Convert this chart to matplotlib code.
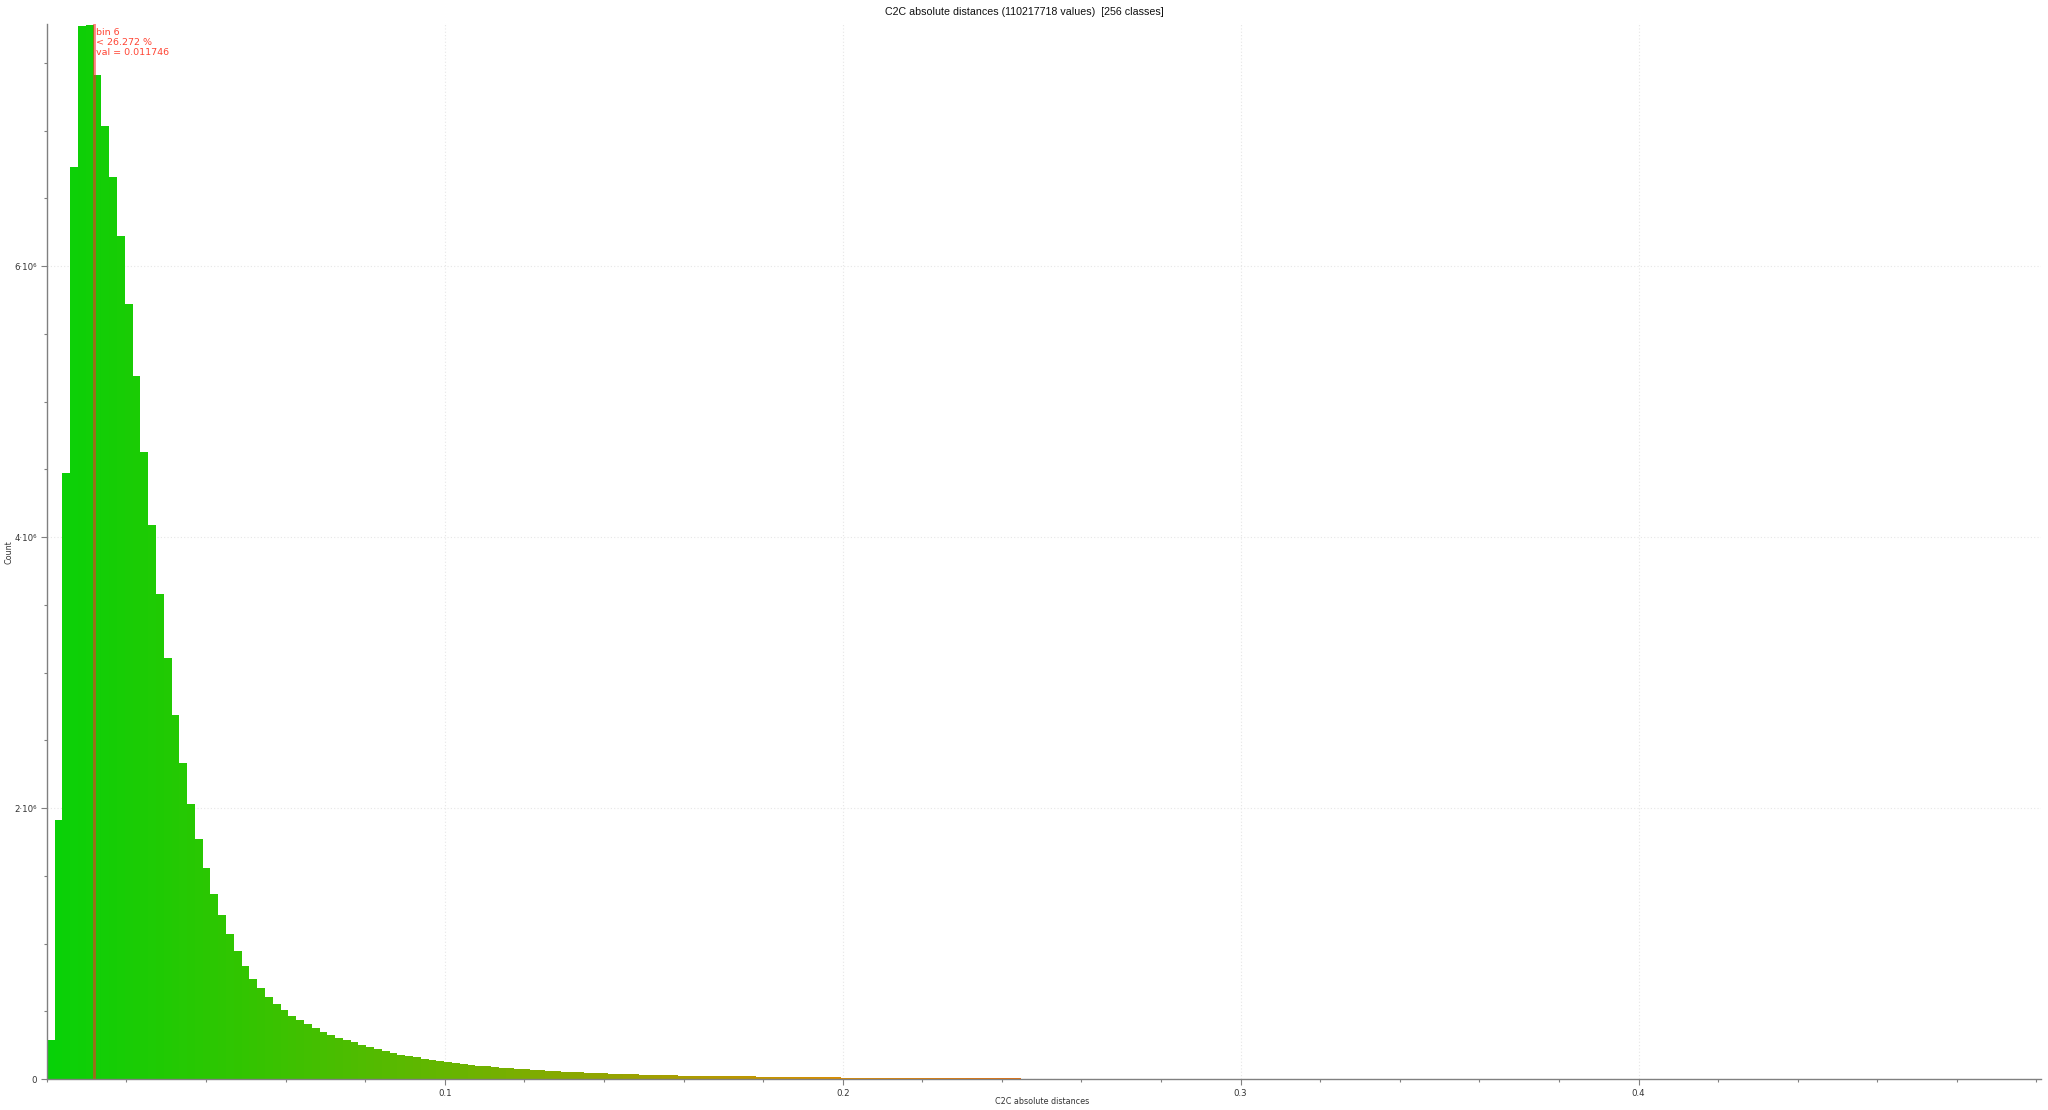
import numpy as np
import matplotlib
matplotlib.use("Agg")
import matplotlib.pyplot as plt
from matplotlib.colors import LinearSegmentedColormap
from matplotlib.ticker import MultipleLocator, FixedLocator

# histogram of C2C absolute distances, 256 classes (counts in millions)
n_classes = 256
total_values = 110217718
marker_bin = 6
marker_val = 0.011746
marker_pct = 26.272
bin_width = marker_val / marker_bin

counts_m = [
    0.29, 1.91, 4.47, 6.73, 7.77, 7.78, 7.41, 7.03, 6.66, 6.22, 5.72, 5.19, 4.63, 4.09, 3.58, 3.11,
    2.69, 2.33, 2.03, 1.77, 1.56, 1.37, 1.215, 1.07, 0.943, 0.837, 0.743, 0.671, 0.604, 0.555, 0.510, 0.468,
    0.435, 0.404, 0.377, 0.352, 0.330, 0.308, 0.291, 0.274, 0.256, 0.238, 0.221, 0.207, 0.196, 0.181, 0.172, 0.162,
    0.152, 0.142, 0.135, 0.128, 0.120, 0.113, 0.108, 0.100, 0.096, 0.091, 0.086, 0.081, 0.076, 0.074, 0.069, 0.066,
    0.061, 0.059, 0.056, 0.054, 0.051, 0.049, 0.046, 0.044, 0.041, 0.039, 0.038, 0.036, 0.034, 0.033, 0.031, 0.030,
    0.029, 0.027, 0.026, 0.0255, 0.025, 0.0245, 0.024, 0.023, 0.022, 0.021, 0.0205, 0.020, 0.019, 0.0185, 0.018, 0.017,
    0.0165, 0.016, 0.015, 0.0145, 0.014, 0.013, 0.0125, 0.012, 0.0115, 0.011, 0.0105, 0.010, 0.0097, 0.0093, 0.009, 0.0086,
    0.0082, 0.008, 0.0077, 0.0074, 0.0072, 0.007, 0.0068, 0.0066, 0.0064, 0.0062, 0.006, 0.0058, 0.0057, 0.0055, 0.0054, 0.0052,
    0.0051, 0.005, 0.0049, 0.0048, 0.0047, 0.0046, 0.0045, 0.0044, 0.0043, 0.0042, 0.0041, 0.0040, 0.0039, 0.0038, 0.0038, 0.0037,
    0.0036, 0.0036, 0.0035, 0.0034, 0.0034, 0.0033, 0.0033, 0.0032, 0.0031, 0.0031, 0.0030, 0.0030, 0.0029, 0.0029, 0.0028, 0.0028,
    0.0027, 0.0027, 0.0026, 0.0026, 0.0025, 0.0025, 0.0025, 0.0024, 0.0024, 0.0023, 0.0023, 0.0023, 0.0022, 0.0022, 0.0021, 0.0021,
    0.0021, 0.0020, 0.0020, 0.0020, 0.0019, 0.0019, 0.0019, 0.0018, 0.0018, 0.0018, 0.0017, 0.0017, 0.0017, 0.0016, 0.0016, 0.0016,
    0.0015, 0.0015, 0.0015, 0.0015, 0.0014, 0.0014, 0.0014, 0.0013, 0.0013, 0.0013, 0.0013, 0.0012, 0.0012, 0.0012, 0.0012, 0.0011,
    0.0011, 0.0011, 0.0011, 0.0010, 0.0010, 0.0010, 0.0010, 0.0010, 0.0009, 0.0009, 0.0009, 0.0009, 0.0009, 0.0008, 0.0008, 0.0008,
    0.0008, 0.0008, 0.0007, 0.0007, 0.0007, 0.0007, 0.0007, 0.0007, 0.0006, 0.0006, 0.0006, 0.0006, 0.0006, 0.0006, 0.0005, 0.0005,
    0.0005, 0.0005, 0.0005, 0.0005, 0.0005, 0.0004, 0.0004, 0.0004, 0.0004, 0.0004, 0.0004, 0.0004, 0.0003, 0.0003, 0.0003, 0.0003,
]

x_ticks = [0.1, 0.2, 0.3, 0.4]
y_ticks = [0, 2e6, 4e6, 6e6]
y_tick_labels = ["0", "2·10⁶", "4·10⁶", "6·10⁶"]

counts = np.array(counts_m) * 1e6
edges = np.arange(n_classes) * bin_width
centers = edges + bin_width / 2
x_max = n_classes * bin_width

# green -> yellow -> orange -> red scale along the distance axis
cmap = LinearSegmentedColormap.from_list("c2c", [
    (0.0, (0.03, 0.82, 0.03)),
    (0.10, (0.20, 0.77, 0.0)),
    (0.20, (0.40, 0.71, 0.0)),
    (0.30, (0.62, 0.63, 0.0)),
    (0.40, (0.86, 0.55, 0.0)),
    (0.50, (0.91, 0.42, 0.05)),
    (0.60, (0.93, 0.32, 0.15)),
    (1.0, (0.93, 0.28, 0.20)),
])
colors = cmap(centers / x_max)

fig = plt.figure(figsize=(20.48, 11.10), dpi=100)
ax = fig.add_axes([0.0229, 0.0277, 0.9737, 0.9504])

ax.bar(edges, counts, width=bin_width, align="edge", color=colors, linewidth=0)

ax.axvline(marker_val, color="#ff2a2a", alpha=0.6, linewidth=2)
ax.text(marker_val + bin_width * 0.25, counts.max() * 0.997,
        "bin %d\n< %.3f %%\nval = %.6f" % (marker_bin, marker_pct, marker_val),
        color="#ff4433", fontsize=6.8, va="top", ha="left", linespacing=1.15)

ax.set_xlim(0, x_max)
ax.set_ylim(0, counts.max() * 1.0005)

ax.xaxis.set_major_locator(FixedLocator(x_ticks))
ax.xaxis.set_minor_locator(MultipleLocator(0.02))
ax.set_yticks(y_ticks)
ax.set_yticklabels(y_tick_labels)
ax.yaxis.set_minor_locator(MultipleLocator(0.5e6))

ax.tick_params(which="both", direction="out", colors="#808080", labelcolor="#333333", labelsize=6.2, pad=3)
ax.tick_params(which="major", length=4, width=0.8)
ax.tick_params(which="minor", length=2.5, width=0.8)

ax.grid(True, which="major", color="#e6e6e6", linestyle=(0, (1, 2)), linewidth=0.8)
ax.set_axisbelow(True)

for side in ["top", "right"]:
    ax.spines[side].set_visible(False)
for side in ["left", "bottom"]:
    ax.spines[side].set_color("#808080")
    ax.spines[side].set_linewidth(1)

fig.text(0.509, 0.0075, "C2C absolute distances", ha="center", va="center", fontsize=5.8, color="#333333")
fig.text(0.0045, 0.503, "Count", ha="center", va="center", rotation=90, fontsize=5.8, color="#333333")
fig.text(0.5, 0.9935, "C2C absolute distances (%d values)  [%d classes]" % (total_values, n_classes),
         ha="center", va="top", fontsize=7.7, family="Liberation Sans", color="#111111")

fig.savefig("out.png", dpi=100)
